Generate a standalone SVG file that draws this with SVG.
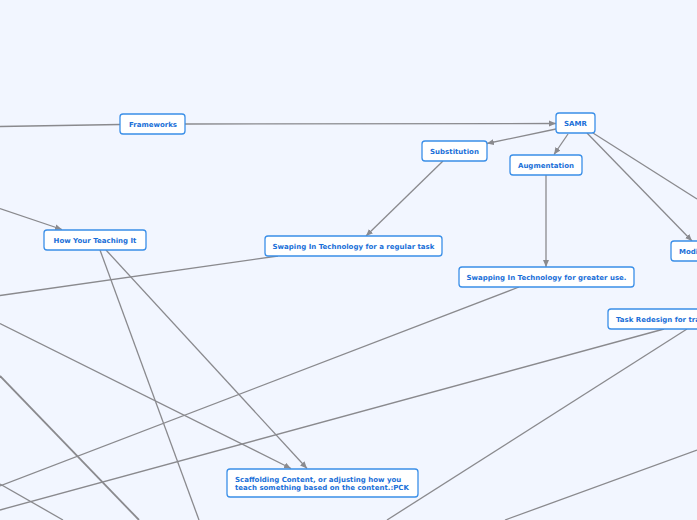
<svg xmlns="http://www.w3.org/2000/svg" width="697" height="520" viewBox="0 0 697 520">
<defs>
<style>
.bg{fill:#f2f6ff}
.n rect{fill:#ffffff;stroke:#3a8fe8;stroke-width:1.3}
.n text{font-family:"DejaVu Sans",Verdana,sans-serif;font-weight:bold;font-size:7px;fill:#1a6fd8}
.c{text-anchor:middle}
#connectors path{fill:none;stroke:#8a8a8e;stroke-width:1.3}
#connectors .a{marker-end:url(#arr)}
</style>
<marker id="arr" markerUnits="userSpaceOnUse" markerWidth="8" markerHeight="7" refX="7" refY="3" orient="auto">
<path d="M0,0 L7,3 L0,6 z" fill="#8a8a8e"/>
</marker>
</defs>
<rect class="bg" x="0" y="0" width="697" height="520"/>
<g id="connectors">
<path d="M0,126.5 L120,124.5"/>
<path class="a" d="M185,124 L556,123.5"/>
<path class="a" d="M556,129 L487,143.5"/>
<path class="a" d="M568,134 L554,154.5"/>
<path class="a" d="M587,133 L692,241"/>
<path d="M593,133 L697,199"/>
<path class="a" d="M443,161 L366,236"/>
<path class="a" d="M546,175 L546,267"/>
<path class="a" d="M0,208.5 L62,229.5"/>
<path d="M278,256 L0,295.5"/>
<path d="M100,250 L199,520"/>
<path class="a" d="M106,250 L307,468.5"/>
<path class="a" d="M0,323.5 L291,468.5"/>
<path d="M519,287 L0,486"/>
<path d="M664,329 L0,510"/>
<path d="M687,329 L387,520"/>
<path d="M697,450 L505,520"/>
<path d="M0,376 L139,520" style="stroke-width:1.8"/>
<path d="M0,484 L63,520"/>
</g>
<g id="frameworks" class="n"><rect x="120" y="114" width="65" height="20" rx="3"/><text class="c" x="153" y="127">Frameworks</text></g>
<g id="samr" class="n"><rect x="556" y="113" width="39" height="20" rx="3"/><text class="c" x="575.5" y="126">SAMR</text></g>
<g id="substitution" class="n"><rect x="422" y="141" width="65" height="20" rx="3"/><text class="c" x="454.5" y="154">Substitution</text></g>
<g id="augmentation" class="n"><rect x="510" y="155" width="72" height="20" rx="3"/><text class="c" x="546" y="168">Augmentation</text></g>
<g id="swapping-greater" class="n"><rect x="459" y="267" width="175" height="20" rx="3"/><text class="c" x="546.5" y="280">Swapping In Technology for greater use.</text></g>
<g id="modification" class="n"><rect x="671" y="241" width="60" height="20" rx="3"/><text x="679" y="254">Modi</text></g>
<g id="task-redesign" class="n"><rect x="608" y="309" width="120" height="20" rx="3"/><text x="616" y="322">Task Redesign for tra</text></g>
<g id="how-teaching" class="n"><rect x="44" y="230" width="102" height="20" rx="3"/><text class="c" x="95" y="243">How Your Teaching It</text></g>
<g id="swaping-regular" class="n"><rect x="265" y="236" width="177" height="20" rx="3"/><text class="c" x="353.5" y="249">Swaping In Technology for a regular task</text></g>
<g id="scaffolding" class="n"><rect x="227" y="469" width="191" height="28" rx="3"/><text x="235" y="482">Scaffolding Content, or adjusting how you</text><text x="235" y="490">teach something based on the content.:PCK</text></g>
</svg>
